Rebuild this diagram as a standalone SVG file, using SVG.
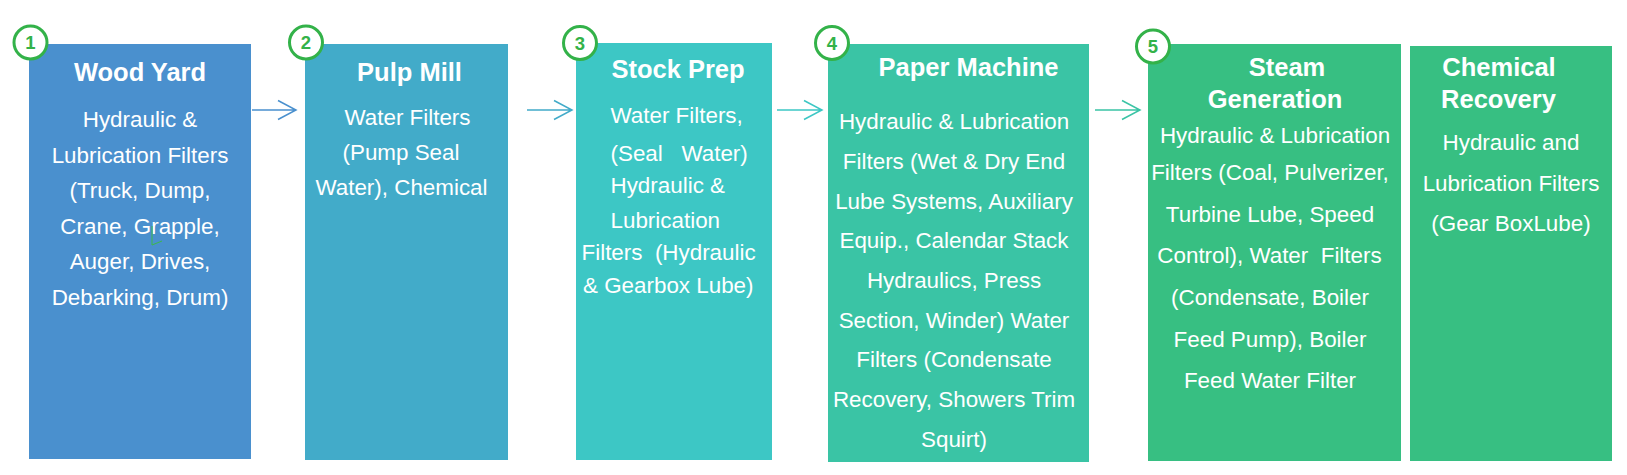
<svg xmlns="http://www.w3.org/2000/svg" width="1627" height="475" viewBox="0 0 1627 475">
<defs>
<style>
.t{font-family:"Liberation Sans",Arial,sans-serif;font-weight:bold;font-size:25.5px;fill:#fff;text-anchor:middle}
.b{font-family:"Liberation Sans",Arial,sans-serif;font-size:22.4px;fill:#fff;text-anchor:middle}
.s{text-anchor:start}
.c{fill:#fff;stroke:#33b249;stroke-width:3}
.n{font-family:"Liberation Sans",Arial,sans-serif;font-weight:bold;font-size:18.5px;fill:#33b249;text-anchor:middle}
.a{fill:none;stroke-width:1.5}
</style>
</defs>
<rect width="1627" height="475" fill="#fff"/>
<g id="node-wood-yard">
<rect x="29" y="44" width="222" height="415" fill="#4a90ce"/>
<text class="t" x="140" y="81">Wood Yard</text>
<text class="b" x="140" y="127">Hydraulic &amp;</text>
<text class="b" x="140" y="162.5">Lubrication Filters</text>
<text class="b" x="140" y="198">(Truck, Dump,</text>
<text class="b" x="140" y="233.5">Crane, Grapple,</text>
<text class="b" x="140" y="269">Auger, Drives,</text>
<text class="b" x="140" y="304.5">Debarking, Drum)</text>
<polyline points="152,226 152,245 162,241" fill="none" stroke="#3cb84a" stroke-width="1"/>
<circle class="c" cx="30.5" cy="42.5" r="16.5"/>
<text class="n" x="30.5" y="49">1</text>
</g>
<g id="node-pulp-mill">
<rect x="305" y="44" width="203" height="416" fill="#42abc9"/>
<text class="t" x="409.5" y="81">Pulp Mill</text>
<text class="b" x="407.5" y="125">Water Filters</text>
<text class="b" x="401" y="160">(Pump Seal</text>
<text class="b" x="401.5" y="195">Water), Chemical</text>
<circle class="c" cx="306" cy="42.5" r="16.5"/>
<text class="n" x="306" y="49">2</text>
</g>
<g id="node-stock-prep">
<rect x="576" y="43" width="196" height="417" fill="#3dc7c5"/>
<text class="t" x="678" y="78">Stock Prep</text>
<text class="b s" x="610.5" y="123">Water Filters,</text>
<text class="b s" x="610.5" y="160.5" xml:space="preserve">(Seal   Water)</text>
<text class="b s" x="610.5" y="193">Hydraulic &amp;</text>
<text class="b s" x="610.5" y="228">Lubrication</text>
<text class="b s" x="581.5" y="260" xml:space="preserve">Filters  (Hydraulic</text>
<text class="b s" x="583" y="293">&amp; Gearbox Lube)</text>
<circle class="c" cx="580" cy="43" r="16.5"/>
<text class="n" x="580" y="49.5">3</text>
</g>
<g id="node-paper-machine">
<rect x="828" y="44" width="261" height="418" fill="#3ac4a5"/>
<text class="t" x="968.5" y="76">Paper Machine</text>
<text class="b" x="954" y="129">Hydraulic &amp; Lubrication</text>
<text class="b" x="954" y="169">Filters (Wet &amp; Dry End</text>
<text class="b" x="954" y="208.5">Lube Systems, Auxiliary</text>
<text class="b" x="954" y="248">Equip., Calendar Stack</text>
<text class="b" x="954" y="287.5">Hydraulics, Press</text>
<text class="b" x="954" y="327.5">Section, Winder) Water</text>
<text class="b" x="954" y="367">Filters (Condensate</text>
<text class="b" x="954" y="406.5">Recovery, Showers Trim</text>
<text class="b" x="954" y="446.5">Squirt)</text>
<circle class="c" cx="832" cy="43" r="16.5"/>
<text class="n" x="832" y="49.5">4</text>
</g>
<g id="node-steam-generation">
<rect x="1148" y="44" width="253" height="417" fill="#37bf82"/>
<text class="t" x="1287" y="75.5">Steam</text>
<text class="t" x="1275" y="108">Generation</text>
<text class="b" x="1275" y="142.5">Hydraulic &amp; Lubrication</text>
<text class="b" x="1270" y="180">Filters (Coal, Pulverizer,</text>
<text class="b" x="1270" y="221.5">Turbine Lube, Speed</text>
<text class="b" x="1269.5" y="263" xml:space="preserve">Control), Water  Filters</text>
<text class="b" x="1270" y="305">(Condensate, Boiler</text>
<text class="b" x="1270" y="347">Feed Pump), Boiler</text>
<text class="b" x="1270" y="388">Feed Water Filter</text>
<circle class="c" cx="1153" cy="46.5" r="16.5"/>
<text class="n" x="1153" y="53">5</text>
</g>
<g id="node-chemical-recovery">
<rect x="1410" y="46" width="202" height="415" fill="#37bf82"/>
<text class="t" x="1499" y="75.5">Chemical</text>
<text class="t" x="1498.5" y="108">Recovery</text>
<text class="b" x="1511" y="150">Hydraulic and</text>
<text class="b" x="1511" y="190.5">Lubrication Filters</text>
<text class="b" x="1511" y="231">(Gear BoxLube)</text>
</g>
<g id="connectors">
<path class="a" stroke="#4a90ce" d="M252,110H296M278,100.5L296,110L278,119.5"/>
<path class="a" stroke="#42abc9" d="M527,110H572M554,100.5L572,110L554,119.5"/>
<path class="a" stroke="#3dc7c5" d="M777,110H822M804,100.5L822,110L804,119.5"/>
<path class="a" stroke="#3ac4a5" d="M1095,110H1140M1122,100.5L1140,110L1122,119.5"/>
</g>
</svg>
